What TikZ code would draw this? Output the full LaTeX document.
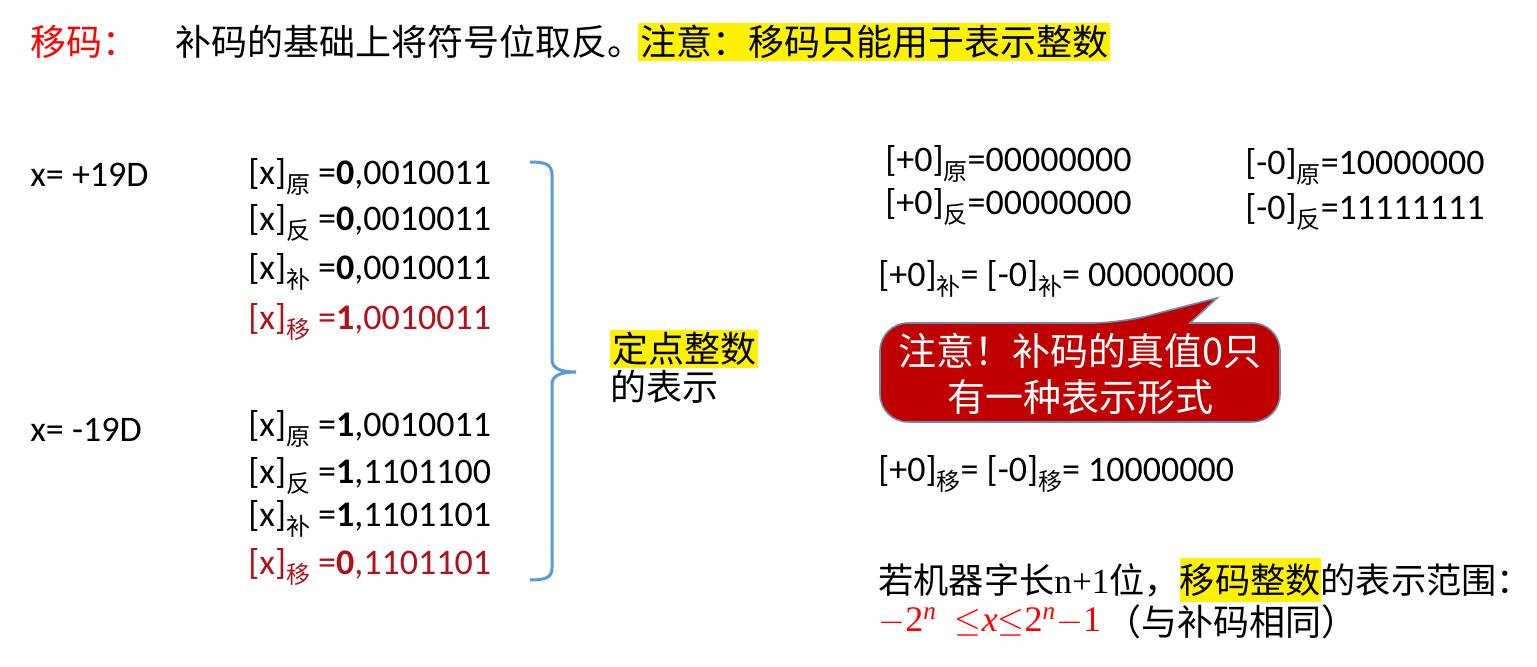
\documentclass[tikz,border=0pt]{standalone}
\usepackage{fontspec}
\setmainfont{Carlito}
\newfontfamily\cjk{Noto Sans CJK SC}
\newfontfamily\serifl{Liberation Serif}
\newcommand{\zsub}[1]{\raisebox{-0.55ex}{\fontsize{12}{12}\selectfont\cjk #1}}
\definecolor{dred}{RGB}{192,0,0}
\definecolor{bred}{RGB}{176,18,26}
\definecolor{brace}{RGB}{91,155,213}
\begin{document}
\begin{tikzpicture}[x=0.5pt,y=-0.5pt,
  t/.style={anchor=west,inner sep=0,font=\fontsize{18}{22}\selectfont},
  hl/.style={t,fill=yellow,inner sep=1pt}]
\useasboundingbox (0,0) rectangle (1537,667);
\node[t,text=red] (ym) at (30,42) {\cjk 移码：};
\node[t] (d1) at (175,42) {\cjk 补码的基础上将符号位取反。};
\node[hl] (d2) at (638,42) {\cjk 注意：移码只能用于表示整数};
% positive
\node[t] (xp) at (30,175) {x= +19D};
\node[t] (p1) at (248,177) {[x]\zsub{原} =\textbf{0},0010011};
\node[t] (p2) at (248,223) {[x]\zsub{反} =\textbf{0},0010011};
\node[t] (p3) at (248,272) {[x]\zsub{补} =\textbf{0},0010011};
\node[t,text=bred] (p4) at (248,322) {[x]\zsub{移} =\textbf{1},0010011};
\node[t] (xn) at (30,430) {x= -19D};
\node[t] (n1) at (248,429) {[x]\zsub{原} =\textbf{1},0010011};
\node[t] (n2) at (248,476) {[x]\zsub{反} =\textbf{1},1101100};
\node[t] (n3) at (248,519) {[x]\zsub{补} =\textbf{1},1101101};
\node[t,text=bred] (n4) at (248,567) {[x]\zsub{移} =\textbf{0},1101101};
\draw[brace,line width=1.5pt] (530,162) .. controls (545,162) and (552,164) .. (552,175) -- (552,360) .. controls (552,368) and (560,372) .. (576,372) .. controls (560,372) and (552,376) .. (552,384) -- (552,568) .. controls (552,578) and (545,580) .. (530,580);
\node[hl] (dd) at (610,349) {\cjk 定点整数};
\node[t] (db) at (610,387) {\cjk 的表示};
% right
\node[t] (r1) at (885,164) {[+0]\zsub{原}=00000000};
\node[t] (r2) at (885,207) {[+0]\zsub{反}=00000000};
\node[t] (r3) at (1245,167) {[-0]\zsub{原}=10000000};
\node[t] (r4) at (1245,212) {[-0]\zsub{反}=11111111};
\node[t] (r5) at (878,279) {[+0]\zsub{补}= [-0]\zsub{补}= 00000000};
\draw[fill=dred,draw=brace!50!gray,line width=0.8pt,rounded corners=14pt]
  (880,323) -- (1120,323) [sharp corners]-- (1217,298) -- (1190,323) [rounded corners=14pt] -- (1280,323) -- (1280,422) -- (880,422) -- cycle;
\node[align=center,text=white,inner sep=0,font=\fontsize{19}{22}\selectfont\cjk] (co) at (1080,374) {注意！补码的真值0只\\[1pt]有一种表示形式};
\node[t] (r6) at (878,474) {[+0]\zsub{移}= [-0]\zsub{移}= 10000000};
\node[t,font=\fontsize{17.6}{22}\selectfont] (b1) at (878,580) {\cjk 若机器字长\serifl n+1\cjk 位，\colorbox{yellow}{\kern-3pt\cjk 移码整数\kern-3pt}的表示范围：};
\node[t,text=red] (b2) at (878,622) {\serifl $-$2\textsuperscript{\itshape n}\ \ $\le$\textit{x}$\le$2\textsuperscript{\itshape n}$-$1};
\node[t] (b3) at (1105,622) {\cjk （与补码相同）};
\end{tikzpicture}
\end{document}
